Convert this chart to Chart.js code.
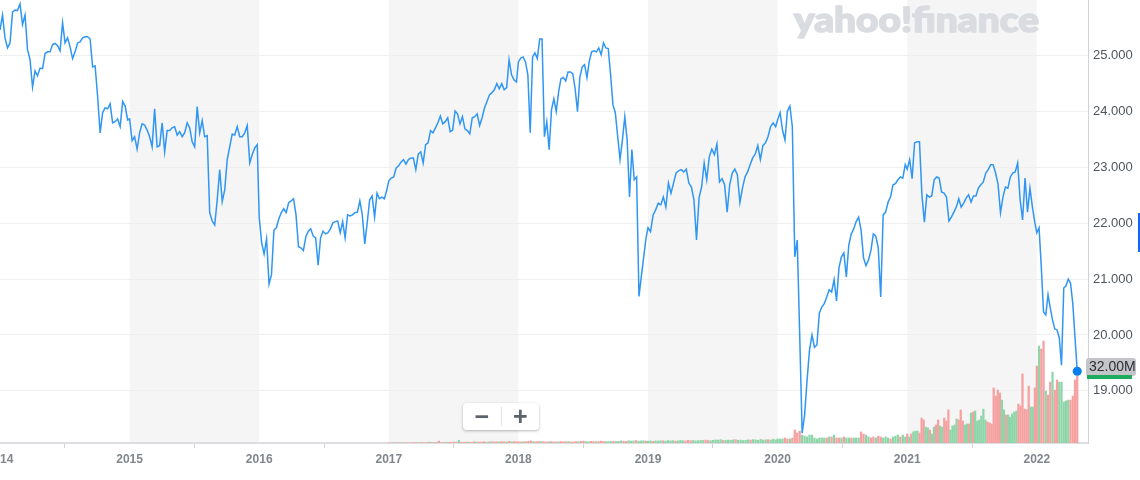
<!DOCTYPE html>
<html>
<head>
<meta charset="utf-8">
<script src="https://cdn.jsdelivr.net/npm/chart.js@4/dist/chart.umd.min.js"></script>
<style>
  html, body { margin: 0; padding: 0; background: #fff; overflow: hidden; }
  #wrap { position: relative; width: 1140px; height: 480px; }
  #zoomBox {
    position: absolute; left: 463px; top: 403px; width: 76px; height: 27px;
    background: #fff; border-radius: 4px; box-shadow: 0 1px 3px rgba(0,0,0,0.28);
    display: flex; align-items: center; font-family: "Liberation Sans", sans-serif;
  }
  #zoomBox span { flex: 1; text-align: center; color: #5d636a; font-weight: bold; font-size: 25px; line-height: 27px; }
  #zoomBox i { width: 1px; height: 19px; background: #e2e4e7; }
</style>
</head>
<body>
<div id="wrap">
  <canvas id="myChart" width="1140" height="480"></canvas>
  <div id="zoomBox"><span>−</span><i></i><span>+</span></div>
</div>
<script>
// weekly closes, one array per calendar year
const years = [2014, 2015, 2016, 2017, 2018, 2019, 2020, 2021, 2022];
const lastDate = 2022.312;

const price2014 = [25.46, 25.73, 25.32, 25.14, 25.23, 25.78, 25.82, 25.81, 25.93, 25.56, 25.73, 25.11, 24.93, 24.44, 24.73, 24.64, 24.78, 24.77, 25.04, 25.07, 25.07, 25.20, 25.22, 25.18, 25.09, 25.59, 25.23, 25.32, 25.16, 24.95, 25.07, 25.23, 25.25, 25.32, 25.34, 25.34, 25.30, 24.80, 24.82, 24.27, 23.62, 23.98, 24.07, 24.05, 24.14, 23.80, 23.82, 23.87, 23.73, 24.18, 24.10, 23.85];
const price2015 = [23.87, 23.48, 23.55, 23.33, 23.62, 23.78, 23.76, 23.67, 23.55, 23.37, 24.05, 23.37, 23.39, 23.80, 23.28, 23.66, 23.66, 23.71, 23.73, 23.58, 23.64, 23.55, 23.62, 23.80, 23.71, 23.46, 23.37, 24.09, 23.62, 23.84, 23.55, 23.57, 22.19, 22.04, 21.97, 22.42, 22.96, 22.39, 22.60, 23.14, 23.37, 23.60, 23.58, 23.73, 23.55, 23.55, 23.62, 23.75, 23.08, 23.23, 23.35, 23.41];
const price2016 = [22.11, 21.65, 21.45, 21.72, 20.91, 21.08, 21.88, 21.92, 22.08, 22.19, 22.26, 22.19, 22.37, 22.40, 22.44, 22.15, 21.58, 21.56, 21.51, 21.76, 21.86, 21.90, 21.77, 21.74, 21.25, 21.74, 21.86, 21.81, 21.83, 21.90, 22.01, 22.03, 22.04, 21.83, 22.03, 21.74, 22.15, 22.13, 22.15, 22.19, 22.20, 22.40, 22.15, 21.63, 22.01, 22.42, 22.49, 22.11, 22.54, 22.44, 22.47, 22.44, 22.60];
const price2017 = [22.76, 22.81, 22.83, 22.99, 23.03, 23.10, 23.14, 23.06, 23.14, 23.17, 23.17, 22.96, 23.24, 23.28, 23.08, 23.41, 23.44, 23.66, 23.62, 23.71, 23.80, 23.92, 23.78, 23.82, 23.89, 23.64, 23.67, 24.01, 23.96, 23.78, 23.91, 23.69, 23.66, 23.60, 23.89, 23.91, 23.96, 23.75, 23.89, 24.07, 24.18, 24.30, 24.34, 24.39, 24.50, 24.41, 24.50, 24.39, 24.43, 24.93, 24.66, 24.57, 24.53];
const price2018 = [24.89, 24.96, 24.98, 24.89, 24.66, 23.62, 24.98, 25.05, 24.95, 25.30, 25.30, 23.55, 23.82, 23.32, 24.03, 24.23, 24.00, 24.35, 24.59, 24.61, 24.55, 24.71, 24.71, 24.68, 24.41, 24.00, 24.62, 24.80, 24.84, 24.61, 24.91, 25.07, 25.09, 25.07, 25.14, 25.02, 25.23, 25.14, 25.13, 24.66, 24.12, 23.98, 23.55, 23.14, 23.49, 23.91, 23.49, 22.47, 23.32, 22.78, 22.83, 20.69, 21.05, 21.40, 21.74];
const price2019 = [21.92, 21.85, 22.15, 22.24, 22.36, 22.33, 22.47, 22.29, 22.72, 22.54, 22.72, 22.90, 22.94, 22.96, 22.92, 22.97, 22.72, 22.65, 22.42, 21.70, 22.46, 22.65, 23.08, 22.78, 23.19, 23.33, 23.23, 23.42, 22.74, 22.80, 22.69, 22.20, 22.69, 22.90, 22.97, 22.87, 22.37, 22.63, 22.83, 22.92, 23.05, 23.17, 23.24, 23.39, 23.14, 23.39, 23.44, 23.55, 23.73, 23.80, 23.73];
const price2020 = [23.85, 23.98, 23.67, 23.49, 24.01, 24.10, 23.73, 21.40, 21.70, 20.00, 18.24, 18.57, 19.19, 19.73, 20.00, 19.78, 19.82, 20.39, 20.50, 20.56, 20.68, 20.81, 20.77, 20.99, 20.61, 21.20, 21.40, 21.47, 21.04, 21.61, 21.81, 21.90, 22.03, 22.11, 21.88, 21.38, 21.24, 21.34, 21.51, 21.81, 21.77, 21.56, 20.68, 22.15, 22.20, 22.38, 22.47, 22.69, 22.71, 22.78, 22.83, 22.81, 23.05];
const price2021 = [22.97, 23.14, 22.80, 23.44, 23.46, 23.46, 22.50, 22.02, 22.51, 22.47, 22.49, 22.78, 22.83, 22.81, 22.56, 22.54, 22.47, 22.04, 22.11, 22.20, 22.29, 22.44, 22.29, 22.36, 22.45, 22.51, 22.38, 22.49, 22.49, 22.63, 22.69, 22.74, 22.90, 22.96, 23.05, 23.05, 22.90, 22.70, 22.19, 22.47, 22.65, 22.63, 22.83, 22.90, 22.92, 23.08, 22.42, 22.06, 22.81, 22.20, 22.63, 22.29, 22.01];
const price2022 = [21.83, 21.92, 21.22, 20.41, 20.36, 20.72, 20.48, 20.27, 20.11, 20.09, 19.95, 19.46, 20.84, 20.88, 21.00, 20.93, 20.57, 19.96, 19.35];

// weekly volume in millions (earlier years are too small to show)
const volYears = [2017, 2018, 2019, 2020, 2021, 2022];
const vol2017 = [0.1, 0.1, 0.2, 0.1, 0.1, 0.2, 0.1, 0.2, 0.1, 0.1, 0.2, 0.2, 0.1, 0.3, 0.2, 0.2, 0.4, 0.3, 0.2, 0.3, 0.9, 0.3, 0.2, 0.4, 0.3, 0.3, 0.5, 0.4, 1.2, 0.4, 0.3, 0.5, 0.4, 0.3, 0.6, 0.5, 0.4, 0.5, 0.6, 0.4, 0.5, 0.7, 0.5, 0.6, 0.5, 0.7, 0.6, 0.5, 0.8, 0.6, 0.7, 0.6];
const vol2018 = [0.6, 0.5, 0.7, 0.6, 0.8, 1.0, 0.7, 0.6, 0.8, 0.7, 0.6, 0.5, 0.6, 0.7, 0.6, 0.5, 0.6, 0.7, 0.6, 0.6, 0.7, 0.5, 0.6, 0.7, 0.6, 0.8, 0.9, 0.7, 0.6, 0.8, 0.7, 0.6, 0.7, 0.9, 0.8, 0.7, 0.6, 0.8, 0.9, 0.7, 0.8, 1.0, 0.9, 0.8, 1.1, 0.9, 1.0, 1.2, 0.9, 1.0, 1.1, 0.9];
const vol2019 = [0.9, 1.0, 0.8, 1.0, 0.9, 1.1, 1.0, 0.9, 1.2, 1.0, 1.1, 0.9, 1.0, 1.2, 1.1, 1.0, 1.3, 1.1, 1.2, 1.0, 1.1, 1.3, 1.2, 1.4, 1.2, 1.1, 1.3, 1.5, 1.4, 1.6, 1.2, 1.3, 1.4, 1.3, 1.5, 1.6, 1.3, 1.4, 1.2, 1.3, 1.5, 1.4, 1.6, 1.5, 1.3, 1.7, 1.4, 1.5, 1.6, 1.4, 1.8, 1.5];
const vol2020 = [1.9, 1.9, 1.9, 2.4, 1.9, 1.9, 2.4, 6.2, 4.8, 5.7, 3.8, 3.3, 2.9, 3.8, 3.8, 2.4, 1.9, 2.4, 2.4, 2.4, 2.4, 2.9, 2.9, 3.8, 2.4, 2.4, 2.4, 2.9, 2.4, 2.4, 2.4, 2.4, 2.4, 2.4, 5.3, 4.3, 3.8, 2.9, 2.4, 2.9, 2.4, 3.3, 2.9, 2.4, 2.9, 2.4, 1.9, 2.9, 3.3, 3.8, 2.9, 3.8, 2.9];
const vol2021 = [4.3, 2.9, 4.3, 5.3, 5.7, 5.7, 4.8, 11.9, 11.0, 7.6, 7.2, 6.2, 4.3, 7.6, 8.6, 11.0, 8.1, 7.6, 11.9, 10.5, 15.8, 6.2, 8.1, 8.6, 11.5, 11.0, 15.8, 10.5, 8.6, 9.1, 9.1, 14.3, 14.8, 15.3, 10.5, 11.0, 12.9, 16.2, 11.0, 10.0, 9.6, 9.1, 26.3, 22.4, 25.3, 23.9, 20.5, 15.8, 13.4, 13.4, 12.4, 13.9, 14.8, 15.3, 18.6, 17.7, 33.0, 16.2, 15.8, 27.2, 17.2, 17.2, 26.3];
const vol2022 = [36.8, 46.3, 44.9, 48.7, 24.8, 22.9, 29.1, 33.9, 25.3, 30.1, 29.1, 29.1, 19.6, 20.1, 20.5, 20.5, 22.4, 30.1, 32.0];

// week direction: g = closed up, r = closed down
const dir2017 = "rrgrrgrrgr rrgrrrgrrg rrrgrrrrgr rrgrrgrrrg rgrrgrrgrg rr";
const dir2018 = "rrgrrrgrrg rrrgrrgrrr grrrgrrggr rgrrrgggrg ggrrgggrgg gr";
const dir2019 = "ggrgggrggg grgggrrrgg gggrrggggg rggggrgggg grggggggrg gg";
const dir2020 = "gggrrgrrrr gggggggggg rgrgrrgrgg rgggrrggrr grrgggrggg rgg";
const dir2021 = "rgrgggrrrg grggrrggrr rggggrrrgg rgrggggggr rrrrrrggrg ggggrrrrrr ggr";
const dir2022 = "rgrrgrrgrr gggggrrrr";

const priceByYear = [price2014, price2015, price2016, price2017, price2018, price2019, price2020, price2021, price2022];
const volByYear = [vol2017, vol2018, vol2019, vol2020, vol2021, vol2022];
const dirByYear = [dir2017, dir2018, dir2019, dir2020, dir2021, dir2022];

function spanFor(year) {
  return year === 2022 ? lastDate - 2022 : 0.985;
}

function place(year, values) {
  const span = spanFor(year);
  return values.map(function(v, i) {
    return { x: year + span * i / (values.length - 1), y: v };
  });
}

const pricePoints = [];
years.forEach(function(yr, k) {
  place(yr, priceByYear[k]).forEach(p => pricePoints.push(p));
});

const volPoints = [];
const volColors = [];
volYears.forEach(function(yr, k) {
  const dirs = dirByYear[k].replace(/ /g, "");
  place(yr, volByYear[k]).forEach(function(p, i) {
    volPoints.push(p);
    volColors.push(dirs[i] === "r" ? "#f6a1a1" : "#8fd5aa");
  });
});

const lastVolume = vol2022[vol2022.length - 1];
const shadedYears = [2015, 2017, 2019, 2021];

const backdrop = {
  id: "backdrop",
  beforeDraw(chart) {
    const { ctx, chartArea, scales } = chart;
    ctx.save();
    ctx.fillStyle = "#f5f5f5";
    shadedYears.forEach(function(yr) {
      const x0 = Math.max(scales.x.getPixelForValue(yr), chartArea.left);
      const x1 = Math.min(scales.x.getPixelForValue(yr + 1), chartArea.right);
      ctx.fillRect(x0, chartArea.top, x1 - x0, chartArea.bottom - chartArea.top);
    });
    // watermark
    ctx.font = "900 35px Lato, 'Open Sans', sans-serif";
    ctx.fillStyle = "#d9dce1";
    ctx.strokeStyle = "#d9dce1";
    ctx.lineWidth = 1.6;
    ctx.lineJoin = "round";
    ctx.textBaseline = "alphabetic";
    const txt = "yahoo!finance";
    const w = ctx.measureText(txt).width;
    ctx.translate(794, 32);
    ctx.scale(245 / w, 1);
    ctx.fillText(txt, 0, 0);
    ctx.strokeText(txt, 0, 0);
    ctx.restore();
  },
  afterDraw(chart) {
    const { ctx, scales } = chart;
    const y = scales.yVol.getPixelForValue(lastVolume);
    ctx.save();
    ctx.fillStyle = "#c3c5c9";
    ctx.beginPath();
    ctx.roundRect(1086, y - 18, 50, 18, 3);
    ctx.fill();
    ctx.fillStyle = "#1daa5c";
    ctx.fillRect(1087, y - 1, 45, 4);
    ctx.fillStyle = "#2b3036";
    ctx.font = "14px 'Liberation Sans', sans-serif";
    ctx.textBaseline = "middle";
    ctx.textAlign = "left";
    ctx.fillText(lastVolume.toFixed(2) + "M", 1089, y - 9);
    // cut-off tab at the right edge
    ctx.fillStyle = "#1565f0";
    ctx.fillRect(1138, 213, 2, 39);
    ctx.restore();
  }
};

const ctx = document.getElementById("myChart");
const lastIdx = pricePoints.length - 1;

new Chart(ctx, {
  data: {
    datasets: [
      {
        type: "line",
        data: pricePoints,
        yAxisID: "y",
        borderColor: "#2f96f4",
        borderWidth: 1.5,
        tension: 0,
        pointRadius: c => (c.dataIndex === lastIdx ? 4.5 : 0),
        pointBackgroundColor: "#0a7ff0",
        pointBorderWidth: 0,
        pointHoverRadius: 0,
        order: 0
      },
      {
        type: "bar",
        data: volPoints,
        yAxisID: "yVol",
        backgroundColor: volColors,
        barThickness: 1.6,
        grouped: false,
        order: 1
      }
    ]
  },
  options: {
    responsive: false,
    animation: false,
    events: [],
    layout: { padding: 0, autoPadding: false },
    plugins: { legend: { display: false }, tooltip: { enabled: false } },
    scales: {
      x: {
        type: "linear",
        min: 2014,
        max: 2022.395,
        offset: false,
        grid: { drawOnChartArea: false, drawTicks: true, tickLength: 5, color: "#cfd2d6" },
        border: { display: true, color: "#dcdee1", width: 2 },
        ticks: {
          stepSize: 1,
          includeBounds: false,
          autoSkip: false,
          maxRotation: 0,
          padding: 4,
          color: "#80868d",
          font: { family: "'Liberation Sans', sans-serif", size: 12, weight: "bold" },
          callback: v => String(v)
        },
        afterFit: s => { s.height = 37; s.paddingLeft = 0; s.paddingRight = 0; }
      },
      y: {
        position: "right",
        min: 18.065,
        max: 25.999,
        grid: { color: "#efefef", drawTicks: false },
        border: { display: true, color: "#d0d3d7", width: 1 },
        ticks: {
          stepSize: 1,
          includeBounds: false,
          padding: 5,
          color: "#4f565d",
          font: { family: "'Liberation Sans', sans-serif", size: 13 },
          callback: v => v.toFixed(3)
        },
        afterFit: s => { s.width = 52; s.paddingTop = 0; s.paddingBottom = 0; }
      },
      yVol: { display: false, min: 0, max: 211.7 }
    }
  },
  plugins: [backdrop]
});
</script>
</body>
</html>
